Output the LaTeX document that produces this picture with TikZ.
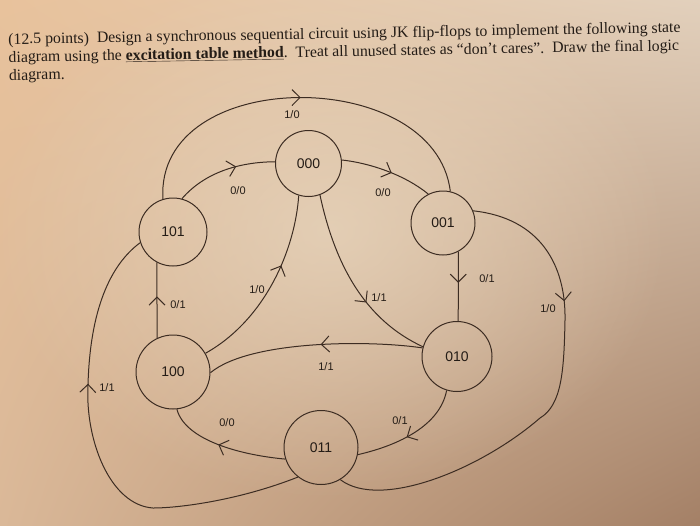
\documentclass[tikz,border=0pt]{standalone}
\usepackage{fontspec}
\setmainfont{Liberation Serif}
\newfontfamily\arialf{Liberation Sans}
\usetikzlibrary{arrows.meta,decorations.markings,shadings,fadings}
\definecolor{ink}{RGB}{60,44,34}
\definecolor{txt}{RGB}{36,28,22}
\definecolor{paperUL}{RGB}{232,194,156}
\definecolor{paperUR}{RGB}{226,208,188}
\definecolor{paperLL}{RGB}{218,184,152}
\definecolor{paperLR}{RGB}{164,128,102}
\definecolor{spotcol}{RGB}{232,214,190}
\tikzfading[name=spot, inner color=transparent!25, outer color=transparent!100]
\begin{document}
\begin{tikzpicture}[x=1pt,y=-1pt,
  state/.style={circle,draw=ink,line width=1pt,inner sep=0pt,text=txt,
    font=\arialf\fontsize{14}{14}\selectfont},
  edge/.style={draw=ink,line width=1pt},
  lbl/.style={font=\arialf\fontsize{11}{11}\selectfont,text=txt,inner sep=0pt},
  head/.style={anchor=north west,rotate=1,inner sep=0pt,text=txt,align=left,
    font=\fontsize{15.8}{18}\selectfont},
  midarr/.style={postaction={decorate},decoration={markings,
    mark=at position #1 with {\arrow[ink,line width=1pt]{Straight Barb[length=8pt,width=16pt]}}}}
]
\useasboundingbox (0,0) rectangle (700,525);
\shade[upper left=paperUL,upper right=paperUR,lower left=paperLL,lower right=paperLR]
  (0,0) rectangle (700,525);
\fill[spotcol,path fading=spot] (330,230) ellipse (340 and 270);

% header text
\node[head] (hdr) at (8,33) {(12.5 points)\ \ Design a synchronous sequential circuit using JK flip-flops to implement the following state\\
diagram using the \underline{\textbf{excitation table method}}.\ \ Treat all unused states as “don’t cares”.\ \ Draw the final logic\\
diagram.};

% states
\node[state,minimum size=66pt] (n000) at (308.5,163.5) {000};
\node[state,minimum size=64pt] (n001) at (443,223) {001};
\node[state,minimum size=68pt] (n101) at (173,232) {101};
\node[state,minimum size=74pt] (n100) at (173,372) {100};
\node[state,minimum size=70pt] (n010) at (457,356.5) {010};
\node[state,minimum size=74pt] (n011) at (321,447.5) {011};

% transitions
\path[edge,midarr=0.5] (n101.107) .. controls (155,65) and (435,65) .. (n001.77);
\path[edge,midarr=0.62] (n101.75) .. controls (205,172) and (240,162) .. (n000.177);
\path[edge,midarr=0.55] (n000.6) .. controls (370,163) and (405,175) .. (n001.117);
\path[edge,midarr=0.45] (n001.-62) -- (n010.88);
\path[edge,midarr=0.62] (n000.-70) .. controls (335,265) and (365,320) .. (n010.164);
\path[edge,midarr=0.62] (n100.30) .. controls (265,320) and (295,250) .. (n000.253);
\path[edge,midarr=0.55] (n100.115.6) -- (n101.-118);
\path[edge,midarr=0.47] (n010.166) .. controls (370,340) and (250,340) .. (n100.-1.5);
\path[edge,midarr=0.55] (n011.198) .. controls (240,455) and (185,440) .. (n100.276);
\path[edge,midarr=0.55] (n010.253) .. controls (440,425) and (400,445) .. (n011.-11.5);
\coordinate (r1) at (565,320);
\coordinate (r2) at (540,418);
\path[edge,midarr=0.29] (n001.22) .. controls (540,218) and (566,265) .. (r1)
  .. controls (564,370) and (562,405) .. (r2)
  .. controls (480,470) and (380,510) .. (n011.-59);
\coordinate (l1) at (153,508);
\coordinate (l2) at (88,385);
\path[edge,midarr=0.66] (n011.232) .. controls (240,500) and (180,508) .. (l1)
  .. controls (110,505) and (85,440) .. (l2)
  .. controls (90,310) and (110,265) .. (n101.198);

% labels
\node[lbl] (a1) at (292,115) {1/0};
\node[lbl] (a2) at (238,191) {0/0};
\node[lbl] (a3) at (383,193) {0/0};
\node[lbl] (a4) at (487,279) {0/1};
\node[lbl] (a5) at (379,298) {1/1};
\node[lbl] (a6) at (257,290) {1/0};
\node[lbl] (a7) at (178,305) {0/1};
\node[lbl] (a8) at (326,367) {1/1};
\node[lbl] (a9) at (227,423) {0/0};
\node[lbl] (a10) at (400,421) {0/1};
\node[lbl] (a11) at (548,309) {1/0};
\node[lbl] (a12) at (107,388) {1/1};
\end{tikzpicture}
\end{document}
